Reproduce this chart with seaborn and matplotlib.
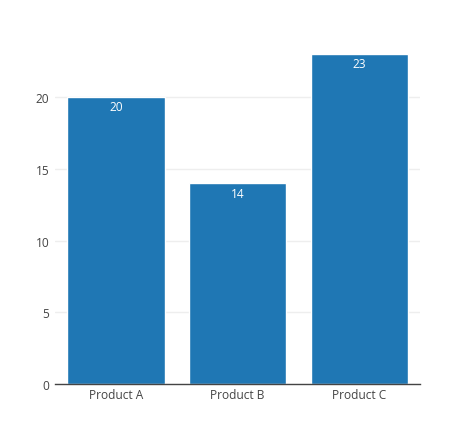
import matplotlib
matplotlib.use('Agg')
from matplotlib import pyplot as plt
import seaborn as sns
import pandas as pd

products = ['Product A', 'Product B', 'Product C']
sales = [20, 14, 23]
y_ticks = [0, 5, 10, 15, 20]

df = pd.DataFrame({'product': products, 'sales': sales})

sns.set_style('white')
plt.rcParams['font.family'] = ['Open Sans', 'DejaVu Sans']

fig = plt.figure(figsize=(4.74, 4.39), dpi=100)
ax = fig.add_axes([55 / 474, 1 - 385 / 439, 365 / 474, (385 - 37.6) / 439])

sns.barplot(data=df, x='product', y='sales', color='#1f77b4', saturation=1,
            width=0.8, ax=ax, zorder=2)

ax.set_xlim(-0.5, 2.5)
ax.set_ylim(0, 24.21)
ax.set_yticks(y_ticks)
ax.grid(axis='y', color='#eeeeee', linewidth=1, zorder=0)
ax.set_axisbelow(True)
ax.set_xlabel('')
ax.set_ylabel('')

for side in ['top', 'right', 'left']:
    ax.spines[side].set_visible(False)
ax.spines['bottom'].set_color('#444444')
ax.spines['bottom'].set_linewidth(1)

ax.tick_params(axis='both', length=0, labelsize=8.6, labelcolor='#444444')
ax.tick_params(axis='y', pad=4)
ax.tick_params(axis='x', pad=3)

for i, v in enumerate(sales):
    ax.annotate(str(v), (i, v), xytext=(0, -2.5), textcoords='offset points',
                ha='center', va='top', color='white', fontsize=8.6)

fig.savefig('out.png', dpi=100)
